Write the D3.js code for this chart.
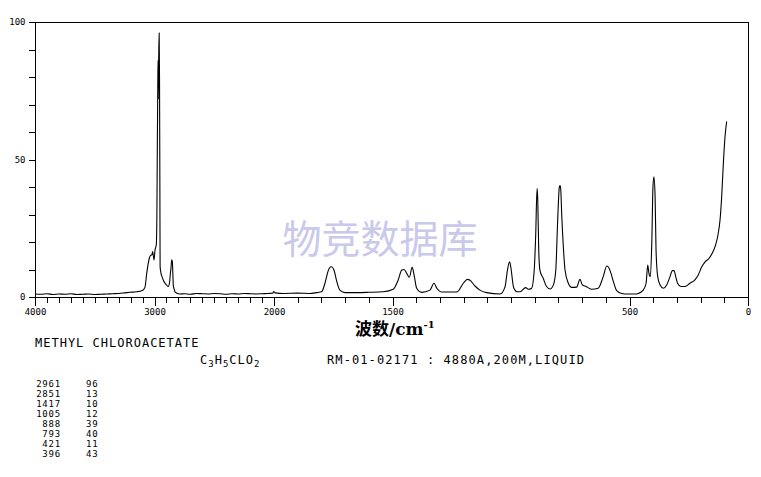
<!DOCTYPE html>
<html><head><meta charset="utf-8">
<script src="https://cdn.jsdelivr.net/npm/d3@7/dist/d3.min.js"></script>
<style>
body{margin:0;background:#fff}
svg{display:block}
.mono{font-family:"DejaVu Sans Mono","Liberation Mono",monospace;fill:#000}
</style>
</head><body>
<svg id="chart" width="761" height="477"></svg>
<script>
// ---- data ----
const wavenumbers = [
 4000,3950,3900,3850,3800,3750,3700,3650,3600,3550,3500,3450,3400,3350,3300,3250,3205,3150,3107,3094,
 3080,3065,3052,3044,3035,3023,3015,3010,3004,2996,2985,2980,2977,2972,2970,2968,2964,2961,2958,2955,
 2953,2945,2937,2925,2912,2900,2885,2875,2866,2862,2856,2851,2846,2843,2835,2828,2800,2787,2750,2700,
 2650,2600,2550,2500,2450,2400,2350,2300,2250,2200,2150,2100,2050,2010,2003,1995,1960,1900,1850,1820,
 1799,1785,1771,1760,1757,1747,1735,1722,1700,1651,1600,1539,1497,1476,1461,1451,1440,1429,1417,1409,
 1398,1377,1342,1325,1313,1292,1229,1201,1184,1173,1152,1131,1103,1046,1025,1015,1006,1001,990,983,
 976,962,938,927,913,902,896,890,887,883,878,864,850,835,821,811,803,796,793,790,
 786,779,772,758,744,723,709,699,688,677,660,632,611,596,590,578,568,554,533,505,
 477,463,442,430,423,418,412,406,401,397,392,388,381,371,357,343,329,319,312,305,
 297,283,266,245,224,210,195,181,165,151,139,128,118,111,104,97,90
];
const intensities = [
 1.1,1.0,1.2,0.9,1.1,1.0,1.2,0.9,1.0,1.1,0.9,1.0,1.1,1.2,1.3,1.5,1.7,1.9,2.3,2.6,
 3.5,8.6,12.3,14,15,15.3,16.5,15,13.5,17,19,30,50,80,86,72,90,96,80,40,
 11,8.5,7.4,6,5,4.4,3.8,5,9,10.5,13.5,13,8,4.4,2.8,1.9,1.2,1.1,1.2,1.0,
 1.3,1.2,1.1,1.3,1.2,1.0,1.2,1.1,1.3,1.2,1.1,1.2,1.3,1.4,2.0,1.5,1.3,1.4,1.3,1.6,
 1.9,5,9.6,11,11,9.8,5.6,2.5,1.6,1.6,1.7,1.9,2.8,6.2,9.8,10,8.6,7.2,10.8,8,
 3.2,1.7,2.5,5,3.2,1.8,1.8,5,6.4,6.1,4,2.5,1.6,1.1,3.8,9.8,12.8,11,3.8,2.5,
 1.9,1.9,3.4,2.8,3.2,9.8,22,39.5,35,17,9.8,6.8,3.8,2.9,4.4,9.8,28,40,40.5,39,
 30,18,9.8,5,3.5,3.6,6.4,4.4,4,3.5,2.8,3.2,7.4,11.3,11,8.6,5.6,2.3,1.3,1.1,
 1.1,1.3,2.5,5,11.6,8.6,7.4,19.5,40,43.7,36.5,17,7.4,4.4,3.2,4.4,7.4,9.6,9.6,7.4,
 5,3.8,3.8,5,6.2,8,11,12.8,14,15.9,18.3,22,28,36.5,48.6,58.3,63.8
];
const xMajorTicks = [4000,3000,2000,1500,500,0];
const xTickLabels = ["4000","3000","2000","1500","500","0"];
const xMinorTicks = d3.range(4000,-1,-100);
const yTicks = d3.range(0,101,10);
const yLabelValues = [0,50,100];
const yLabelTexts = ["0","50","100"];
const compoundName = "METHYL CHLOROACETATE";
const formulaParts = [["C",""],["3","sub"],["H",""],["5","sub"],["CLO",""],["2","sub"]];
const sampleInfo = "RM-01-02171 : 4880A,200M,LIQUID";
const peakWavenumbers = ["2961","2851","1417","1005","888","793","421","396"];
const peakIntensities = ["96","13","10","12","39","40","11","43"];
const xAxisTitle = "波数/cm";
const xAxisSup = "-1";
const watermark = "物竞数据库";

// ---- drawing ----
const svg = d3.select("#chart");
const L=35, R=748, T=22, B=297;
const x = d3.scaleLinear().domain([4000,2000,0]).range([L,274,R]);
const y = d3.scaleLinear().domain([0,100]).range([B,T]);

// watermark
svg.append("text").attr("x",380).attr("y",253).attr("text-anchor","middle")
  .style("font-family","'Noto Sans CJK SC'").style("font-size","39px")
  .style("fill","#c9c9ec").text(watermark);

// frame
svg.append("rect").attr("x",L+0.5).attr("y",T+0.5).attr("width",R-L).attr("height",B-T)
  .attr("fill","none").attr("stroke","#000").attr("stroke-width",1).attr("shape-rendering","crispEdges");

// x minor ticks
const gxMinor = svg.append("g").attr("transform",`translate(0,${B+0.5})`)
  .call(d3.axisBottom(x).tickValues(xMinorTicks).tickSize(5).tickFormat(""));
gxMinor.select(".domain").remove();
// x major ticks
const gx = svg.append("g").attr("transform",`translate(0,${B+0.5})`)
  .call(d3.axisBottom(x).tickValues(xMajorTicks).tickSize(8).tickPadding(3)
     .tickFormat((d,i)=>xTickLabels[i]));
gx.select(".domain").remove();
gx.selectAll("text").attr("class","mono").style("font-size","9px").attr("fill","#000");

// y ticks
const gy = svg.append("g").attr("transform",`translate(${L+0.5},0)`)
  .call(d3.axisLeft(y).tickValues(yTicks).tickSize(7).tickPadding(3)
     .tickFormat(d=>{const k=yLabelValues.indexOf(d);return k>=0?yLabelTexts[k]:"";}));
gy.select(".domain").remove();
gy.selectAll("text").attr("class","mono").style("font-size","9px").attr("fill","#000");
svg.selectAll(".tick line").attr("stroke","#000").attr("shape-rendering","crispEdges");

// spectrum
const pts = wavenumbers.map((w,i)=>[w,intensities[i]]);
svg.append("path").datum(pts)
  .attr("d",d3.line().curve(d3.curveMonotoneX).x(d=>x(d[0])).y(d=>y(d[1])))
  .attr("fill","none").attr("stroke","#000").attr("stroke-width",1.1);

// x axis title
const xt = svg.append("text").attr("x",355).attr("y",335).style("font-weight","bold").style("font-size","17px");
xt.append("tspan").style("font-family","'Noto Sans CJK SC'").text(xAxisTitle.slice(0,2));
xt.append("tspan").style("font-family","'DejaVu Serif'").text(xAxisTitle.slice(2));
xt.append("tspan").style("font-family","'DejaVu Serif'").style("font-size","10px").attr("dy",-7).text(xAxisSup);

// compound name
svg.append("text").attr("class","mono").attr("x",35).attr("y",347)
  .style("font-size","12px").style("letter-spacing","1px").text(compoundName);
// formula
const ft = svg.append("text").attr("class","mono").attr("x",200).attr("y",364)
  .style("font-size","12px").style("letter-spacing","1px");
formulaParts.forEach(([t,k])=>{
  const s = ft.append("tspan").text(t);
  if(k==="sub"){ s.style("font-size","9px").attr("dy",3); }
  else { s.attr("dy", ft.selectAll("tspan").size()>1 ? -3 : 0); }
});
// sample info
svg.append("text").attr("class","mono").attr("x",327).attr("y",364)
  .style("font-size","12px").style("letter-spacing","1.1px").text(sampleInfo);

// peak list
const pl = svg.append("g");
peakWavenumbers.forEach((w,i)=>{
  pl.append("text").attr("class","mono").attr("x",61).attr("y",387+i*10)
    .attr("text-anchor","end").style("font-size","9px").style("letter-spacing","0.8px").text(w);
  pl.append("text").attr("class","mono").attr("x",86).attr("y",387+i*10)
    .style("font-size","9px").style("letter-spacing","0.8px").text(peakIntensities[i]);
});
</script>
</body></html>
